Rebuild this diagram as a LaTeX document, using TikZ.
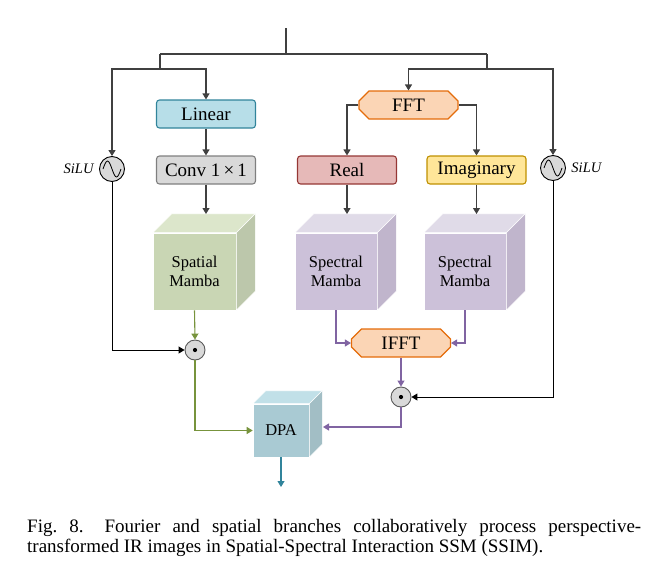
\documentclass[tikz,border=0pt]{standalone}
\usepackage{fontspec}
\setmainfont{Liberation Serif}
\usetikzlibrary{arrows.meta,shapes.misc,calc}
\definecolor{lnGray}{HTML}{404040}
\definecolor{linF}{HTML}{B7DEE8}\definecolor{linD}{HTML}{31849B}
\definecolor{convF}{HTML}{D9D9D9}\definecolor{convD}{HTML}{7F7F7F}
\definecolor{odD}{HTML}{595959}
\definecolor{realF}{HTML}{E6B9B8}\definecolor{realD}{HTML}{953735}
\definecolor{imagF}{HTML}{FFE699}\definecolor{imagD}{HTML}{BF9000}
\definecolor{fftF}{HTML}{FBD5B5}\definecolor{fftD}{HTML}{E46C0A}
\definecolor{gFront}{HTML}{C9D6B4}\definecolor{gTop}{HTML}{DCE6CB}\definecolor{gSide}{HTML}{BCC7AB}
\definecolor{pFront}{HTML}{CCC1D9}\definecolor{pTop}{HTML}{E0DBE8}\definecolor{pSide}{HTML}{C0B5CC}
\definecolor{dFront}{HTML}{A9CAD3}\definecolor{dTop}{HTML}{C1E0E8}\definecolor{dSide}{HTML}{A2BEC5}
\definecolor{lnGreen}{HTML}{77933C}\definecolor{lnPurple}{HTML}{8064A2}\definecolor{lnTeal}{HTML}{31849B}
\newcommand\cubesides[4]{%
  \filldraw[draw=white,line width=0.6pt,fill=#3] (#1.north west) -- ++(#2,-#2) -- ($(#1.north east)+(#2,-#2)$) -- (#1.north east) -- cycle;
  \filldraw[draw=white,line width=0.6pt,fill=#4] (#1.north east) -- ($(#1.north east)+(#2,-#2)$) -- ($(#1.south east)+(#2,-#2)$) -- (#1.south east) -- cycle;}
\begin{document}
\begin{tikzpicture}[x=1pt,y=-1pt,
  box/.style={draw, rounded corners=3pt, minimum width=99pt, minimum height=28pt, inner sep=0pt, line width=1.1pt, font=\fontsize{19}{22}\selectfont},
  chamf/.style={chamfered rectangle, chamfered rectangle xsep=5pt, chamfered rectangle ysep=5pt, draw=fftD, fill=fftF, minimum width=99pt, minimum height=28pt, inner sep=0pt, line width=1.1pt, font=\fontsize{19}{22}\selectfont},
  cubefront/.style={draw=white, line width=0.6pt, inner sep=0pt, align=center, font=\fontsize{16.5}{19.5}\selectfont},
  silu/.style={circle, draw=black, fill=convF, line width=0.9pt, minimum size=25pt, inner sep=0pt},
  odot/.style={circle, draw=odD, fill=convF, line width=0.9pt, minimum size=20pt, inner sep=0pt},
  silulab/.style={font=\fontsize{14.5}{16}\selectfont\itshape},
  arr/.style={-{Triangle[width=7pt,length=6pt]}, line width=1.1pt},
  ln/.style={line width=1.1pt, draw=lnGray},
]
\useasboundingbox (0,0) rectangle (652,565);

% nodes
\node[box, fill=linF, draw=linD] (lin) at (206,114) {Linear};
\node[box, fill=convF, draw=convD] (conv) at (206,170) {Conv 1\,×\,1};
\node[box, fill=realF, draw=realD] (real) at (347,170) {Real};
\node[box, fill=imagF, draw=imagD] (imag) at (476.5,170) {Imaginary};
\node[chamf] (fft) at (408.5,105) {FFT};
\node[chamf] (ifft) at (401,343) {IFFT};

\node[silu, label={[silulab, xshift=-2pt]left:SiLU}] (silu1) at (112,169) {};
\node[silu, label={[silulab, xshift=2pt]right:SiLU}] (silu2) at (553,168) {};
\foreach \s in {silu1,silu2}{
  \draw[line width=0.8pt] ($(\s)+(-9,0)$) sin ($(\s)+(-4.5,-8)$) cos ($(\s)+(0,0)$) sin ($(\s)+(4.5,8)$) cos ($(\s)+(9,0)$);
}

\node[cubefront, fill=gFront, minimum width=83pt, minimum height=77pt] (sm) at (194.5,271.5) {Spatial\\Mamba};
\cubesides{sm}{19}{gTop}{gSide}
\node[cubefront, fill=pFront, minimum width=82pt, minimum height=77pt] (spm1) at (336,271.5) {Spectral\\Mamba};
\cubesides{spm1}{19}{pTop}{pSide}
\node[cubefront, fill=pFront, minimum width=82pt, minimum height=77pt] (spm2) at (465,271.5) {Spectral\\Mamba};
\cubesides{spm2}{19}{pTop}{pSide}
\node[cubefront, fill=dFront, minimum width=56pt, minimum height=53pt] (dpa) at (281,430.5) {DPA};
\cubesides{dpa}{13}{dTop}{dSide}

\node[odot] (od1) at (195,350) {};
\fill (od1) circle (2.1pt);
\node[odot] (od2) at (401,397) {};
\fill (od2) circle (2.1pt);

% coordinates
\coordinate (in) at (286,28);
\coordinate (sp) at (286,54);
\coordinate (sL) at (160,54);
\coordinate (sR) at (487,54);
\coordinate (smTop) at (206,214);
\coordinate (sp1Top) at (347,214);
\coordinate (sp2Top) at (476.5,214);
\coordinate (dpaR) at (323,427);
\coordinate (out) at (281,487);

% connectors
\draw[ln] (in) -- (sp);
\draw[ln] (sL) -- (sR);
\draw[ln, arr] (sL) -- (160,69) -| (silu1.north);
\draw[ln, arr] (160,69) -| (lin.north);
\draw[ln, arr] (sR) -- (487,69) -| (fft.north);
\draw[ln, arr] (487,69) -| (silu2.north);
\draw[ln, arr] (fft.west) -| (real.north);
\draw[ln, arr] (fft.east) -| (imag.north);
\draw[ln, arr] (lin) -- (conv);
\draw[ln, arr] (conv.south) -- (smTop);
\draw[ln, arr] (real.south) -- (sp1Top);
\draw[ln, arr] (imag.south) -- (sp2Top);

\draw[arr, lnGreen] (sm.south) -- (od1.north);
\draw[arr, black, line width=1pt] (silu1.south) |- (od1.west);
\draw[arr, lnGreen] (od1.south) |- (dpa.west);

\draw[arr, lnPurple] (spm1.south) |- (ifft.west);
\draw[arr, lnPurple] (spm2.south) |- (ifft.east);
\draw[arr, lnPurple] (ifft.south) -- (od2.north);
\draw[arr, black, line width=1pt] (silu2.south) |- (od2.east);
\draw[arr, lnPurple] (od2.south) |- (dpaR);
\draw[arr, lnTeal] (dpa.south) -- (out);

% caption
\node[anchor=north west, inner sep=0pt, text width=614pt, align=justify, font=\fontsize{19}{20.5}\selectfont] (cap) at (27,519)
{Fig.~8.\hskip 1.1em Fourier and spatial branches collaboratively process perspective-\linebreak transformed IR images in Spatial-Spectral Interaction SSM (SSIM).};
\end{tikzpicture}
\end{document}
